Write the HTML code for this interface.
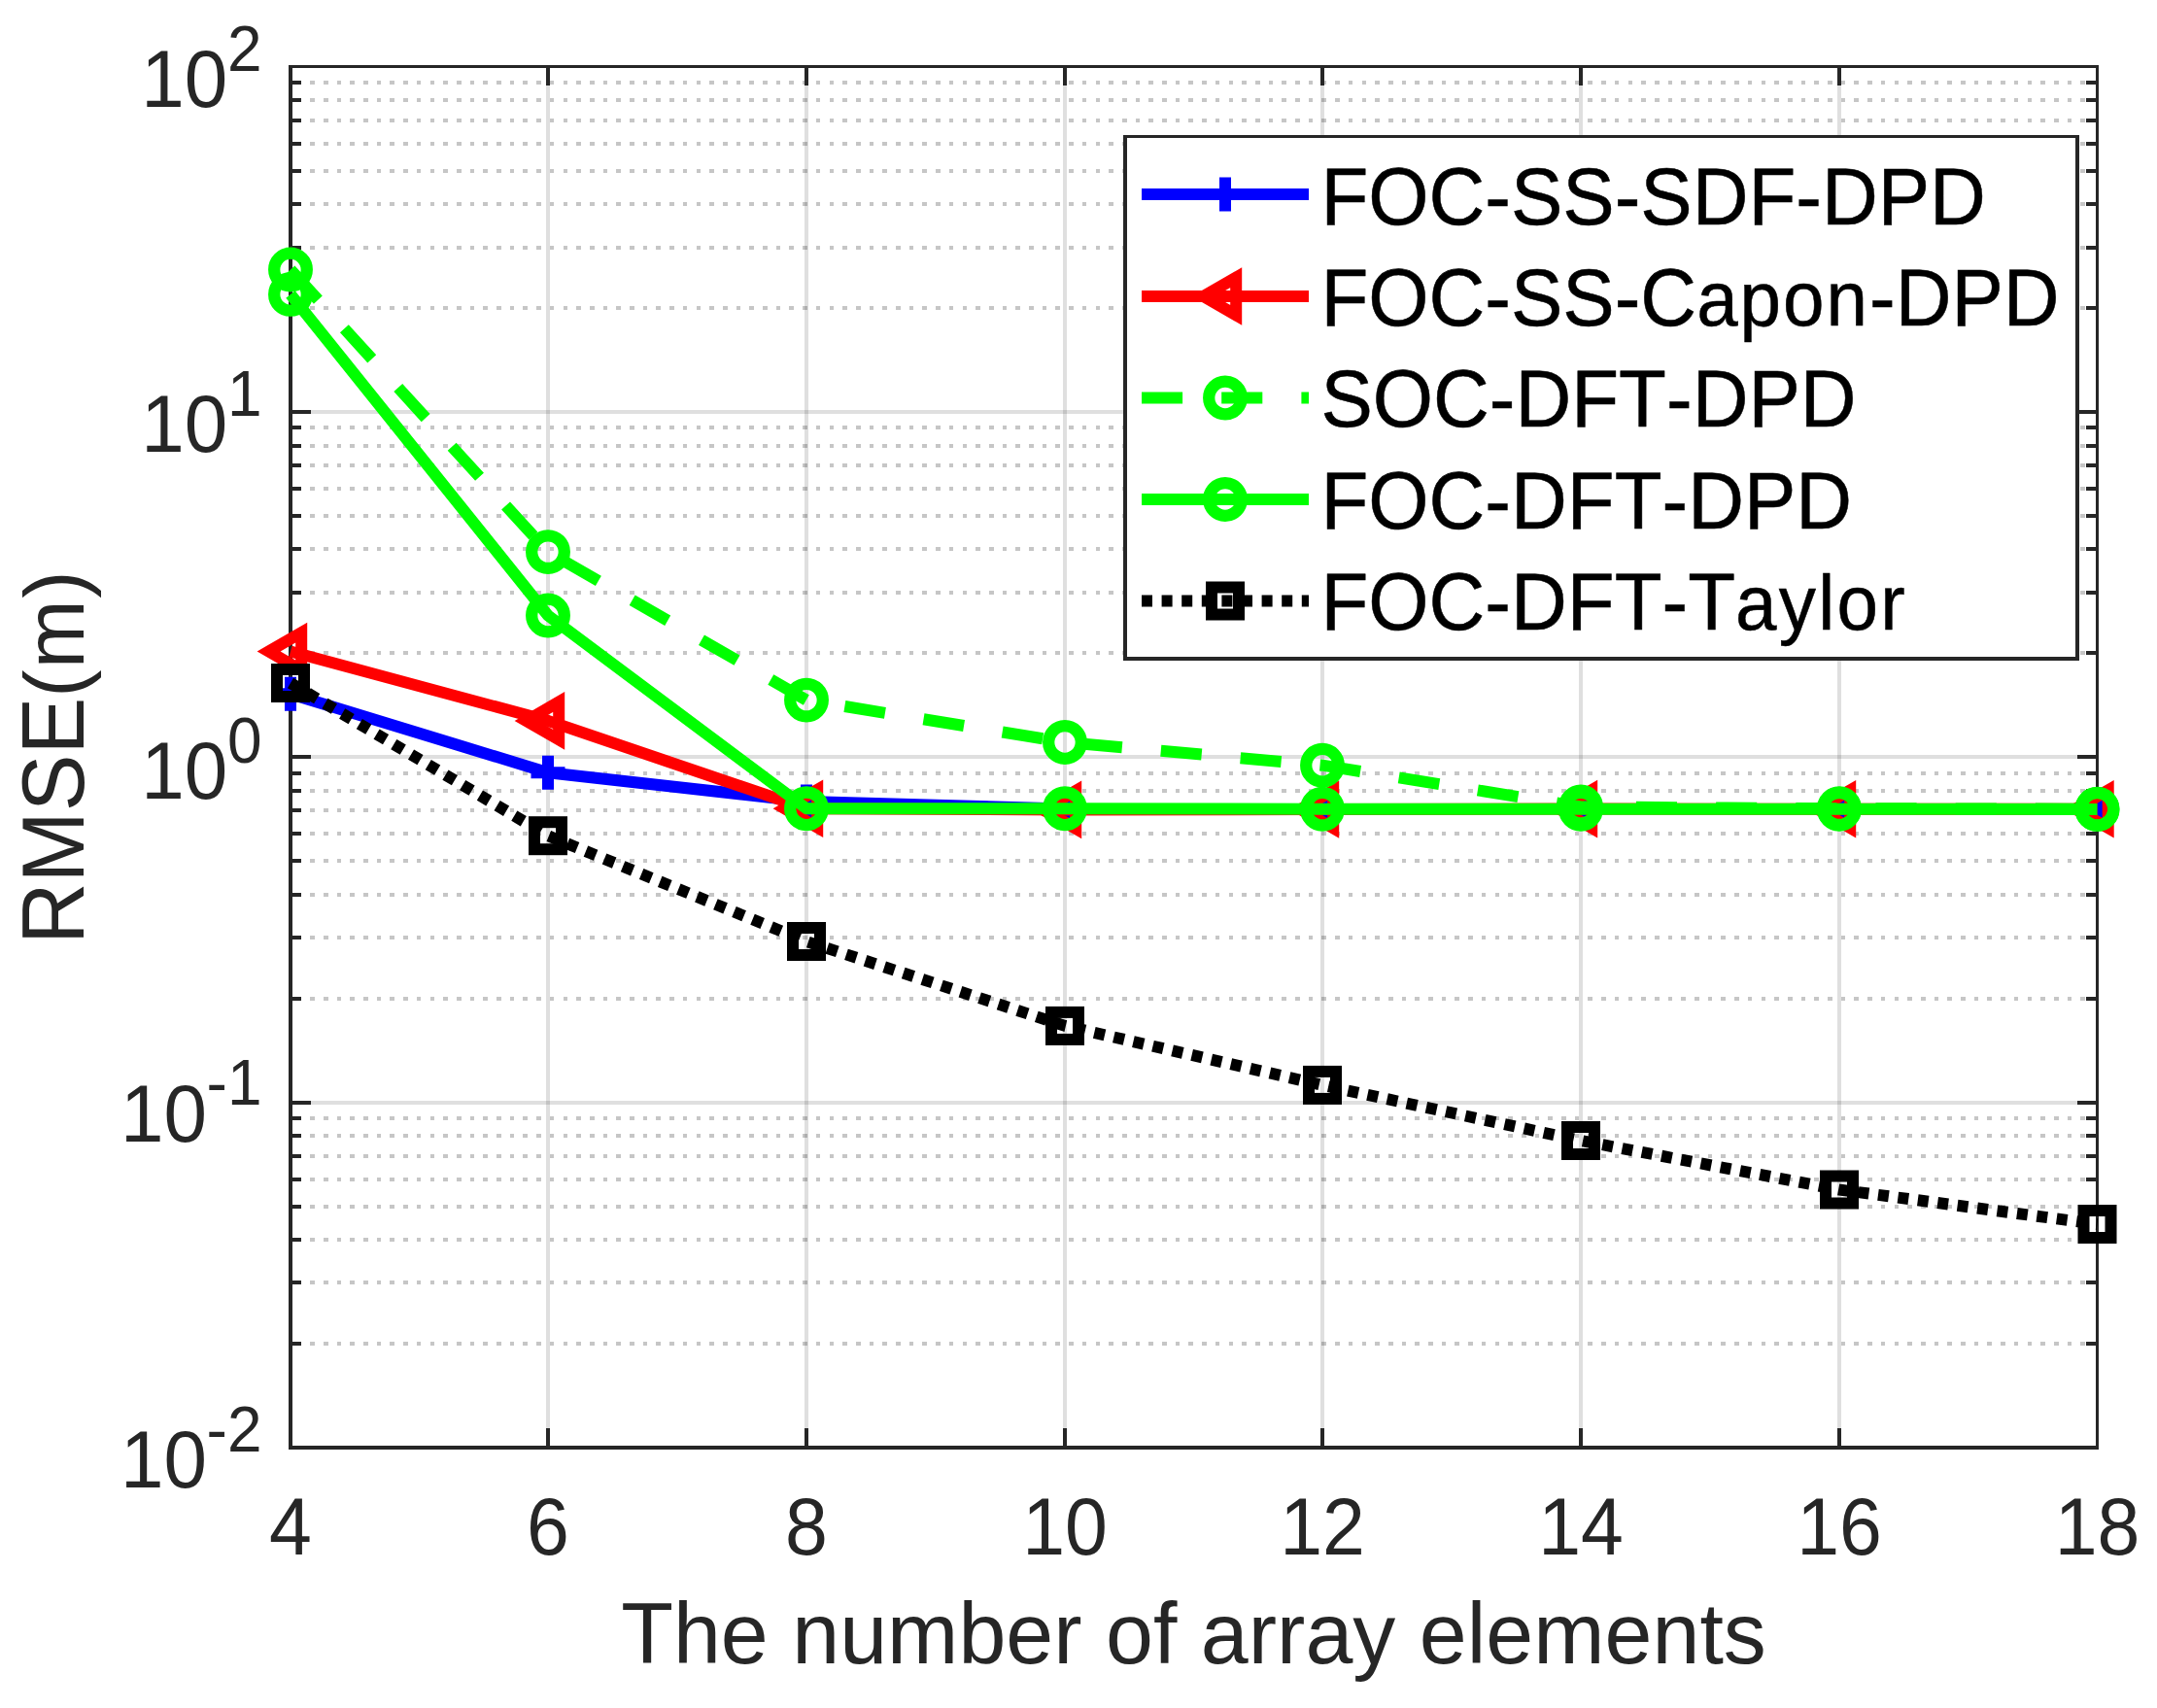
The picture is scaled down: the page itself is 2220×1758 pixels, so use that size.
<!DOCTYPE html>
<html lang="en"><head><meta charset="utf-8"><title>RMSE versus the number of array elements</title>
<style>
html,body{margin:0;padding:0;background:#fff;}
body{width:2220px;height:1758px;overflow:hidden;}
svg{display:block;}
text{font-family:"Liberation Sans", sans-serif;font-kerning:none;}
</style></head><body>
<svg width="2220" height="1758" viewBox="0 0 2220 1758">
<rect x="0" y="0" width="2220" height="1758" fill="#ffffff"/>

<g shape-rendering="crispEdges" stroke="#1a1a1a" stroke-opacity="0.25" stroke-width="4" stroke-dasharray="4.6 9.1" fill="none">
<line x1="319.2" y1="1383" x2="2147" y2="1383"/>
<line x1="319.2" y1="1320" x2="2147" y2="1320"/>
<line x1="319.2" y1="1276" x2="2147" y2="1276"/>
<line x1="319.2" y1="1242" x2="2147" y2="1242"/>
<line x1="319.2" y1="1214" x2="2147" y2="1214"/>
<line x1="319.2" y1="1190" x2="2147" y2="1190"/>
<line x1="319.2" y1="1169" x2="2147" y2="1169"/>
<line x1="319.2" y1="1151" x2="2147" y2="1151"/>
<line x1="319.2" y1="1028" x2="2147" y2="1028"/>
<line x1="319.2" y1="965" x2="2147" y2="965"/>
<line x1="319.2" y1="921" x2="2147" y2="921"/>
<line x1="319.2" y1="886" x2="2147" y2="886"/>
<line x1="319.2" y1="858" x2="2147" y2="858"/>
<line x1="319.2" y1="834" x2="2147" y2="834"/>
<line x1="319.2" y1="814" x2="2147" y2="814"/>
<line x1="319.2" y1="796" x2="2147" y2="796"/>
<line x1="319.2" y1="672" x2="2147" y2="672"/>
<line x1="319.2" y1="610" x2="2147" y2="610"/>
<line x1="319.2" y1="565" x2="2147" y2="565"/>
<line x1="319.2" y1="531" x2="2147" y2="531"/>
<line x1="319.2" y1="503" x2="2147" y2="503"/>
<line x1="319.2" y1="479" x2="2147" y2="479"/>
<line x1="319.2" y1="459" x2="2147" y2="459"/>
<line x1="319.2" y1="440" x2="2147" y2="440"/>
<line x1="319.2" y1="317" x2="2147" y2="317"/>
<line x1="319.2" y1="255" x2="2147" y2="255"/>
<line x1="319.2" y1="210" x2="2147" y2="210"/>
<line x1="319.2" y1="176" x2="2147" y2="176"/>
<line x1="319.2" y1="148" x2="2147" y2="148"/>
<line x1="319.2" y1="124" x2="2147" y2="124"/>
<line x1="319.2" y1="103" x2="2147" y2="103"/>
<line x1="319.2" y1="85" x2="2147" y2="85"/>
</g>
<g shape-rendering="crispEdges" fill="#262626" fill-opacity="0.15">
<rect x="301" y="422" width="1856" height="4"/>
<rect x="301" y="777" width="1856" height="4"/>
<rect x="301" y="1133" width="1856" height="4"/>
<rect x="562" y="70" width="4" height="1418"/>
<rect x="828" y="70" width="4" height="1418"/>
<rect x="1094" y="70" width="4" height="1418"/>
<rect x="1359" y="70" width="4" height="1418"/>
<rect x="1625" y="70" width="4" height="1418"/>
<rect x="1891" y="70" width="4" height="1418"/>
</g>
<g shape-rendering="crispEdges" fill="#262626">
<rect x="301" y="1381" width="9" height="4"/><rect x="2147" y="1381" width="10" height="4"/>
<rect x="301" y="1318" width="9" height="4"/><rect x="2147" y="1318" width="10" height="4"/>
<rect x="301" y="1274" width="9" height="4"/><rect x="2147" y="1274" width="10" height="4"/>
<rect x="301" y="1240" width="9" height="4"/><rect x="2147" y="1240" width="10" height="4"/>
<rect x="301" y="1212" width="9" height="4"/><rect x="2147" y="1212" width="10" height="4"/>
<rect x="301" y="1188" width="9" height="4"/><rect x="2147" y="1188" width="10" height="4"/>
<rect x="301" y="1167" width="9" height="4"/><rect x="2147" y="1167" width="10" height="4"/>
<rect x="301" y="1149" width="9" height="4"/><rect x="2147" y="1149" width="10" height="4"/>
<rect x="301" y="1026" width="9" height="4"/><rect x="2147" y="1026" width="10" height="4"/>
<rect x="301" y="963" width="9" height="4"/><rect x="2147" y="963" width="10" height="4"/>
<rect x="301" y="919" width="9" height="4"/><rect x="2147" y="919" width="10" height="4"/>
<rect x="301" y="884" width="9" height="4"/><rect x="2147" y="884" width="10" height="4"/>
<rect x="301" y="856" width="9" height="4"/><rect x="2147" y="856" width="10" height="4"/>
<rect x="301" y="832" width="9" height="4"/><rect x="2147" y="832" width="10" height="4"/>
<rect x="301" y="812" width="9" height="4"/><rect x="2147" y="812" width="10" height="4"/>
<rect x="301" y="794" width="9" height="4"/><rect x="2147" y="794" width="10" height="4"/>
<rect x="301" y="670" width="9" height="4"/><rect x="2147" y="670" width="10" height="4"/>
<rect x="301" y="608" width="9" height="4"/><rect x="2147" y="608" width="10" height="4"/>
<rect x="301" y="563" width="9" height="4"/><rect x="2147" y="563" width="10" height="4"/>
<rect x="301" y="529" width="9" height="4"/><rect x="2147" y="529" width="10" height="4"/>
<rect x="301" y="501" width="9" height="4"/><rect x="2147" y="501" width="10" height="4"/>
<rect x="301" y="477" width="9" height="4"/><rect x="2147" y="477" width="10" height="4"/>
<rect x="301" y="457" width="9" height="4"/><rect x="2147" y="457" width="10" height="4"/>
<rect x="301" y="438" width="9" height="4"/><rect x="2147" y="438" width="10" height="4"/>
<rect x="301" y="315" width="9" height="4"/><rect x="2147" y="315" width="10" height="4"/>
<rect x="301" y="253" width="9" height="4"/><rect x="2147" y="253" width="10" height="4"/>
<rect x="301" y="208" width="9" height="4"/><rect x="2147" y="208" width="10" height="4"/>
<rect x="301" y="174" width="9" height="4"/><rect x="2147" y="174" width="10" height="4"/>
<rect x="301" y="146" width="9" height="4"/><rect x="2147" y="146" width="10" height="4"/>
<rect x="301" y="122" width="9" height="4"/><rect x="2147" y="122" width="10" height="4"/>
<rect x="301" y="101" width="9" height="4"/><rect x="2147" y="101" width="10" height="4"/>
<rect x="301" y="83" width="9" height="4"/><rect x="2147" y="83" width="10" height="4"/>
<rect x="301" y="422" width="19" height="4"/><rect x="2138" y="422" width="19" height="4"/>
<rect x="301" y="777" width="19" height="4"/><rect x="2138" y="777" width="19" height="4"/>
<rect x="301" y="1133" width="19" height="4"/><rect x="2138" y="1133" width="19" height="4"/>
<rect x="562" y="70" width="4" height="18"/><rect x="562" y="1470" width="4" height="18"/>
<rect x="828" y="70" width="4" height="18"/><rect x="828" y="1470" width="4" height="18"/>
<rect x="1094" y="70" width="4" height="18"/><rect x="1094" y="1470" width="4" height="18"/>
<rect x="1359" y="70" width="4" height="18"/><rect x="1359" y="1470" width="4" height="18"/>
<rect x="1625" y="70" width="4" height="18"/><rect x="1625" y="1470" width="4" height="18"/>
<rect x="1891" y="70" width="4" height="18"/><rect x="1891" y="1470" width="4" height="18"/>
<rect x="297" y="67" width="4" height="1425"/><rect x="2157" y="67" width="3" height="1425"/><rect x="297" y="67" width="1863" height="3"/><rect x="297" y="1488" width="1863" height="4"/>
</g>
<text transform="translate(299.0,1600.0) scale(0.985,1.05)" text-anchor="middle" font-size="80px" fill="#262626">4</text>
<text transform="translate(564.0,1600.0) scale(0.985,1.05)" text-anchor="middle" font-size="80px" fill="#262626">6</text>
<text transform="translate(830.0,1600.0) scale(0.985,1.05)" text-anchor="middle" font-size="80px" fill="#262626">8</text>
<text transform="translate(1096.0,1600.0) scale(0.985,1.05)" text-anchor="middle" font-size="80px" fill="#262626">10</text>
<text transform="translate(1361.0,1600.0) scale(0.985,1.05)" text-anchor="middle" font-size="80px" fill="#262626">12</text>
<text transform="translate(1627.0,1600.0) scale(0.985,1.05)" text-anchor="middle" font-size="80px" fill="#262626">14</text>
<text transform="translate(1893.0,1600.0) scale(0.985,1.05)" text-anchor="middle" font-size="80px" fill="#262626">16</text>
<text transform="translate(2158.5,1600.0) scale(0.985,1.05)" text-anchor="middle" font-size="80px" fill="#262626">18</text>
<text transform="translate(234.2,109.7) scale(1.0,1.045)" text-anchor="end" font-size="80px" fill="#262626">10</text>
<text transform="translate(269.5,73.1) scale(1.0,1.045)" text-anchor="end" font-size="64px" fill="#262626">2</text>
<text transform="translate(234.2,465.0) scale(1.0,1.045)" text-anchor="end" font-size="80px" fill="#262626">10</text>
<text transform="translate(269.5,428.1) scale(1.0,1.045)" text-anchor="end" font-size="64px" fill="#262626">1</text>
<text transform="translate(234.2,822.0) scale(1.0,1.045)" text-anchor="end" font-size="80px" fill="#262626">10</text>
<text transform="translate(269.5,785.0) scale(1.0,1.045)" text-anchor="end" font-size="64px" fill="#262626">0</text>
<text transform="translate(212.9,1175.0) scale(1.0,1.045)" text-anchor="end" font-size="80px" fill="#262626">10</text>
<text transform="translate(269.5,1136.8) scale(1.0,1.045)" text-anchor="end" font-size="64px" fill="#262626">-1</text>
<text transform="translate(212.9,1531.0) scale(1.0,1.045)" text-anchor="end" font-size="80px" fill="#262626">10</text>
<text transform="translate(269.5,1494.0) scale(1.0,1.045)" text-anchor="end" font-size="64px" fill="#262626">-2</text>
<text transform="translate(1228.5,1712.0) scale(1.0,1.015)" text-anchor="middle" font-size="88px" fill="#262626">The number of array elements</text>
<text transform="translate(85.6,779.0) rotate(-90) scale(1.0,1.04)" text-anchor="middle" font-size="88px" fill="#262626">RMSE<tspan font-size="84.6px" letter-spacing="1.7px">(m)</tspan></text>
<g>
<polyline points="1096.0,832.4 1361.0,832.6 1627.0,832.7 1893.0,832.8 2158.5,832.8" fill="none" stroke="#0000ff" stroke-width="10" stroke-linejoin="round"/>
<polyline points="299.0,714.2 564.0,795.2 830.0,825.0 1096.0,832.4" fill="none" stroke="#0000ff" stroke-width="12" stroke-linejoin="round"/>
<path d="M281.5,714.2H316.5M299.0,696.7V731.7" fill="none" stroke="#0000ff" stroke-width="12"/>
<path d="M546.5,795.2H581.5M564.0,777.7V812.7" fill="none" stroke="#0000ff" stroke-width="12"/>
<path d="M812.5,825.0H847.5M830.0,807.5V842.5" fill="none" stroke="#0000ff" stroke-width="12"/>
<path d="M1078.5,832.4H1113.5M1096.0,814.9V849.9" fill="none" stroke="#0000ff" stroke-width="12"/>
<path d="M1343.5,832.6H1378.5M1361.0,815.1V850.1" fill="none" stroke="#0000ff" stroke-width="12"/>
<path d="M1609.5,832.7H1644.5M1627.0,815.2V850.2" fill="none" stroke="#0000ff" stroke-width="12"/>
<path d="M1875.5,832.8H1910.5M1893.0,815.3V850.3" fill="none" stroke="#0000ff" stroke-width="12"/>
<path d="M2141.0,832.8H2176.0M2158.5,815.3V850.3" fill="none" stroke="#0000ff" stroke-width="12"/>
<polyline points="299.0,670.5 564.0,741.9 830.0,832.2 1096.0,833.4 1361.0,833.0 1627.0,832.6 1893.0,832.8 2158.5,832.8" fill="none" stroke="#ff0000" stroke-width="12" stroke-linejoin="round"/>
<polygon points="276.6,670.5 310.2,651.1 310.2,689.9" fill="none" stroke="#ff0000" stroke-width="12" stroke-linejoin="miter" stroke-miterlimit="10"/>
<polygon points="541.6,741.9 575.2,722.5 575.2,761.3" fill="none" stroke="#ff0000" stroke-width="12" stroke-linejoin="miter" stroke-miterlimit="10"/>
<polygon points="807.6,832.2 841.2,812.8 841.2,851.6" fill="none" stroke="#ff0000" stroke-width="12" stroke-linejoin="miter" stroke-miterlimit="10"/>
<polygon points="1073.6,833.4 1107.2,814.0 1107.2,852.8" fill="none" stroke="#ff0000" stroke-width="12" stroke-linejoin="miter" stroke-miterlimit="10"/>
<polygon points="1338.6,833.0 1372.2,813.6 1372.2,852.4" fill="none" stroke="#ff0000" stroke-width="12" stroke-linejoin="miter" stroke-miterlimit="10"/>
<polygon points="1604.6,832.6 1638.2,813.2 1638.2,852.0" fill="none" stroke="#ff0000" stroke-width="12" stroke-linejoin="miter" stroke-miterlimit="10"/>
<polygon points="1870.6,832.8 1904.2,813.4 1904.2,852.2" fill="none" stroke="#ff0000" stroke-width="12" stroke-linejoin="miter" stroke-miterlimit="10"/>
<polygon points="2136.1,832.8 2169.7,813.4 2169.7,852.2" fill="none" stroke="#ff0000" stroke-width="12" stroke-linejoin="miter" stroke-miterlimit="10"/>
<polyline points="299.0,277.5 564.0,568.1 830.0,720.6 1096.0,764.0 1361.0,787.7 1627.0,830.5 1893.0,832.2 2158.5,832.7" fill="none" stroke="#00ff00" stroke-width="12" stroke-linejoin="round" stroke-dasharray="42.1 40.1"/>
<circle cx="299.0" cy="277.5" r="16.8" fill="none" stroke="#00ff00" stroke-width="12.3"/>
<circle cx="564.0" cy="568.1" r="16.8" fill="none" stroke="#00ff00" stroke-width="12.3"/>
<circle cx="830.0" cy="720.6" r="16.8" fill="none" stroke="#00ff00" stroke-width="12.3"/>
<circle cx="1096.0" cy="764.0" r="16.8" fill="none" stroke="#00ff00" stroke-width="12.3"/>
<circle cx="1361.0" cy="787.7" r="16.8" fill="none" stroke="#00ff00" stroke-width="12.3"/>
<circle cx="1627.0" cy="830.5" r="16.8" fill="none" stroke="#00ff00" stroke-width="12.3"/>
<circle cx="1893.0" cy="832.2" r="16.8" fill="none" stroke="#00ff00" stroke-width="12.3"/>
<circle cx="2158.5" cy="832.7" r="16.8" fill="none" stroke="#00ff00" stroke-width="12.3"/>
<polyline points="299.0,302.9 564.0,633.5 830.0,832.3 1096.0,832.3 1361.0,832.7 1627.0,832.7 1893.0,832.8 2158.5,832.9" fill="none" stroke="#00ff00" stroke-width="12" stroke-linejoin="round"/>
<circle cx="299.0" cy="302.9" r="16.8" fill="none" stroke="#00ff00" stroke-width="12.3"/>
<circle cx="564.0" cy="633.5" r="16.8" fill="none" stroke="#00ff00" stroke-width="12.3"/>
<circle cx="830.0" cy="832.3" r="16.8" fill="none" stroke="#00ff00" stroke-width="12.3"/>
<circle cx="1096.0" cy="832.3" r="16.8" fill="none" stroke="#00ff00" stroke-width="12.3"/>
<circle cx="1361.0" cy="832.7" r="16.8" fill="none" stroke="#00ff00" stroke-width="12.3"/>
<circle cx="1627.0" cy="832.7" r="16.8" fill="none" stroke="#00ff00" stroke-width="12.3"/>
<circle cx="1893.0" cy="832.8" r="16.8" fill="none" stroke="#00ff00" stroke-width="12.3"/>
<circle cx="2158.5" cy="832.9" r="16.8" fill="none" stroke="#00ff00" stroke-width="12.3"/>
<polyline points="299.0,703.0 564.0,860.2 830.0,969.0 1096.0,1055.9 1361.0,1116.9 1627.0,1174.0 1893.0,1224.5 2158.5,1260.0" fill="none" stroke="#000000" stroke-width="12" stroke-linejoin="round" stroke-dasharray="11 9.6"/>
<rect x="285.0" y="689.0" width="28" height="28" fill="none" stroke="#000000" stroke-width="12"/>
<rect x="550.0" y="846.2" width="28" height="28" fill="none" stroke="#000000" stroke-width="12"/>
<rect x="816.0" y="955.0" width="28" height="28" fill="none" stroke="#000000" stroke-width="12"/>
<rect x="1082.0" y="1041.9" width="28" height="28" fill="none" stroke="#000000" stroke-width="12"/>
<rect x="1347.0" y="1102.9" width="28" height="28" fill="none" stroke="#000000" stroke-width="12"/>
<rect x="1613.0" y="1160.0" width="28" height="28" fill="none" stroke="#000000" stroke-width="12"/>
<rect x="1879.0" y="1210.5" width="28" height="28" fill="none" stroke="#000000" stroke-width="12"/>
<rect x="2144.5" y="1246.0" width="28" height="28" fill="none" stroke="#000000" stroke-width="12"/>
</g>
<rect x="1158" y="141" width="980" height="537" fill="#ffffff"/>
<g shape-rendering="crispEdges" fill="#262626"><rect x="1156" y="139" width="984" height="3"/><rect x="1156" y="676" width="984" height="4"/><rect x="1156" y="139" width="4" height="541"/><rect x="2136" y="139" width="4" height="541"/></g>
<line x1="1175" y1="200" x2="1347" y2="200" stroke="#0000ff" stroke-width="12"/>
<path d="M1243.5,200.0H1278.5M1261.0,182.5V217.5" fill="none" stroke="#0000ff" stroke-width="12"/>
<text transform="translate(1359.5,230.5) scale(1.0,1.048)" text-anchor="start" font-size="80px" fill="#000000" stroke="#000000" stroke-width="0.5">FOC-SS-SDF-DPD</text>
<line x1="1175" y1="305" x2="1347" y2="305" stroke="#ff0000" stroke-width="12"/>
<polygon points="1238.6,305.0 1272.2,285.6 1272.2,324.4" fill="none" stroke="#ff0000" stroke-width="12" stroke-linejoin="miter" stroke-miterlimit="10"/>
<text transform="translate(1359.5,335.0) scale(1.0,1.048)" text-anchor="start" font-size="80px" fill="#000000" stroke="#000000" stroke-width="0.5">FOC-SS-C<tspan font-size="76.4px" letter-spacing="2.00px">apon</tspan>-DPD</text>
<line x1="1175" y1="409.5" x2="1347" y2="409.5" stroke="#00ff00" stroke-width="12" stroke-dasharray="42.1 40.1"/>
<circle cx="1261.0" cy="409.5" r="16.8" fill="none" stroke="#00ff00" stroke-width="12.3"/>
<text transform="translate(1359.5,439.4) scale(1.0,1.048)" text-anchor="start" font-size="80px" fill="#000000" stroke="#000000" stroke-width="0.5">SOC-DFT-DPD</text>
<line x1="1175" y1="514" x2="1347" y2="514" stroke="#00ff00" stroke-width="12"/>
<circle cx="1261.0" cy="514.0" r="16.8" fill="none" stroke="#00ff00" stroke-width="12.3"/>
<text transform="translate(1359.5,543.9) scale(1.0,1.048)" text-anchor="start" font-size="80px" fill="#000000" stroke="#000000" stroke-width="0.5">FOC-DFT-DPD</text>
<line x1="1175" y1="618.5" x2="1347" y2="618.5" stroke="#000000" stroke-width="12" stroke-dasharray="11 9.6"/>
<rect x="1247.0" y="604.5" width="28" height="28" fill="none" stroke="#000000" stroke-width="12"/>
<text transform="translate(1359.5,648.3) scale(1.0,1.048)" text-anchor="start" font-size="80px" fill="#000000" stroke="#000000" stroke-width="0.5">FOC-DFT-T<tspan font-size="76.4px" letter-spacing="2.30px">aylor</tspan></text>
</svg></body></html>
